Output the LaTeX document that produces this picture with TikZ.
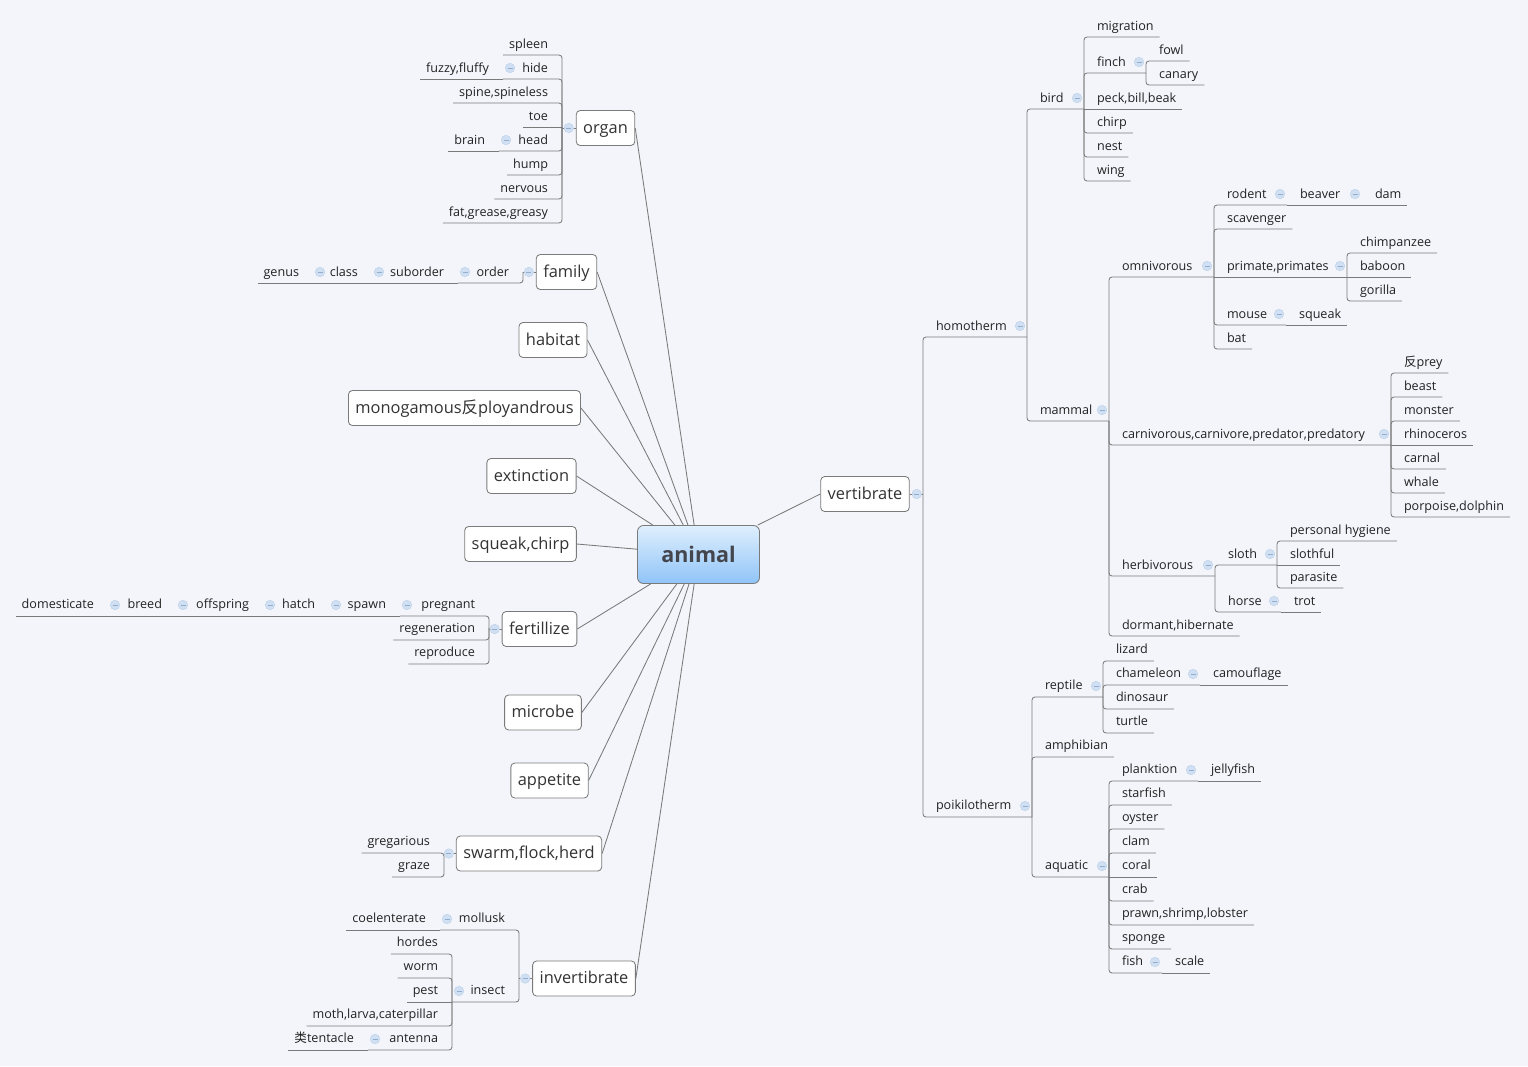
\documentclass[tikz,border=0pt]{standalone}
\usepackage{fontspec}
\setmainfont{Open Sans}
\newfontfamily\cjk{Noto Sans CJK SC}
\usetikzlibrary{positioning,calc}
\definecolor{paper}{HTML}{F3F5FA}
\definecolor{linegray}{HTML}{7A7A7A}
\definecolor{inktext}{HTML}{222222}
\definecolor{boxtext}{HTML}{333333}
\definecolor{roottext}{HTML}{44464E}
\definecolor{roottop}{HTML}{DFEFFD}
\definecolor{rootbottom}{HTML}{90C4F8}
\definecolor{iconfill}{HTML}{D0E0F2}
\definecolor{iconedge}{HTML}{BDD2EA}
\definecolor{icondash}{HTML}{92AECF}
\newcommand{\topicdepth}{6.5pt}
\tikzset{
    link/.style={draw=linegray,line width=0.85pt,rounded corners=3pt},
    spoke/.style={draw=linegray,line width=0.85pt},
    topic/.style={inner xsep=0pt,inner ysep=0pt,outer sep=0pt,text height=11pt,text depth=\topicdepth,text=inktext,font=\fontsize{12.6}{15}\selectfont},
    leafr/.style={topic,anchor=south west,execute at begin node={\kern13pt},execute at end node={\kern6pt}},
    branchr/.style={topic,anchor=south west,text width=#1pt,align=left,execute at begin node={\hspace*{13pt}}},
    leafl/.style={topic,anchor=south east,execute at begin node={\kern6pt},execute at end node={\kern14pt}},
    branchl/.style={topic,anchor=south east,text width=#1pt,align=right,execute at end node={\hspace*{14pt}}},
    mainbox/.style={draw=linegray,line width=0.85pt,fill=white,rounded corners=4pt,minimum height=35pt,inner xsep=7pt,inner ysep=0pt,text height=13pt,text depth=3pt,text=boxtext,font=\fontsize{16.4}{20}\selectfont},
    minus/.style={circle,draw=iconedge,fill=iconfill,line width=0.5pt,minimum size=9.5pt,inner sep=0pt,
        path picture={\draw[draw=icondash,line width=0.6pt] ([xshift=-2.5pt]path picture bounding box.center) -- ([xshift=2.5pt]path picture bounding box.center);}},
}
\begin{document}
\begin{tikzpicture}[x=1pt,y=-1pt]
    \fill[paper] (0,0) rectangle (1528,1066);
    \useasboundingbox (0,0) rectangle (1528,1066);

    \node[draw=linegray,line width=0.85pt,rounded corners=6pt,minimum width=122pt,minimum height=58pt,inner sep=0pt,
        top color=roottop,bottom color=rootbottom,text height=16pt,text depth=0pt,text=roottext,font=\fontsize{21.5}{26}\selectfont\bfseries](animal) at (698.5,554.5){animal};

    % boxes round the centre
    \node[mainbox](vertibrate) at (865,494){vertibrate};
    \node[mainbox](organ) at (605.5,128){organ};
    \node[mainbox](family) at (566.5,272){family};
    \node[mainbox](habitat) at (553,340){habitat};
    \node[mainbox](monogamous) at (464.5,408){monogamous{\cjk 反}ployandrous};
    \node[mainbox](extinction) at (531.5,476){extinction};
    \node[mainbox](squeakchirp) at (520.5,544){squeak,chirp};
    \node[mainbox](fertillize) at (539.5,629){fertillize};
    \node[mainbox](microbe) at (543,712.5){microbe};
    \node[mainbox](appetite) at (549.5,780.5){appetite};
    \node[mainbox](swarm) at (529,853.5){swarm,flock,herd};
    \node[mainbox](invertibrate) at (584,978.5){invertibrate};

    % junctions beside the boxes
    \coordinate (vertibratej) at (923,494);
    \coordinate (organj) at (562,127);
    \coordinate (familyj) at (523,272);
    \coordinate (fertillizej) at (489,628);
    \coordinate (swarmj) at (444,864);
    \coordinate (invertibratej) at (519,978);

    % homotherm
    \node[branchr=104](homotherm) at (vertibratej |- 0,337){homotherm};
    \node[branchr=57](bird) at (homotherm.south east |- 0,109){bird};
    \node[branchr=82](mammal) at (homotherm.south east |- 0,421){mammal};
    \node[leafr](migration) at (bird.south east |- 0,37){migration};
    \node[branchr=62](finch) at (bird.south east |- 0,73){finch};
    \node[leafr](peck) at (bird.south east |- 0,109){peck,bill,beak};
    \node[leafr](chirp) at (bird.south east |- 0,133){chirp};
    \node[leafr](nest) at (bird.south east |- 0,157){nest};
    \node[leafr](wing) at (bird.south east |- 0,181){wing};
    \node[leafr](fowl) at (finch.south east |- 0,61){fowl};
    \node[leafr](canary) at (finch.south east |- 0,85){canary};
    \node[branchr=105](omnivorous) at (mammal.south east |- 0,277){omnivorous};
    \node[branchr=282](carnivorous) at (mammal.south east |- 0,445){carnivorous,carnivore,predator,predatory};
    \node[branchr=106](herbivorous) at (mammal.south east |- 0,576){herbivorous};
    \node[leafr](dormant) at (mammal.south east |- 0,636){dormant,hibernate};
    \node[branchr=73](rodent) at (omnivorous.south east |- 0,205){rodent};
    \node[branchr=75](beaver) at (rodent.south east){beaver};
    \node[leafr](dam) at (beaver.south east){dam};
    \node[leafr](scavenger) at (omnivorous.south east |- 0,229){scavenger};
    \node[branchr=133](primate) at (omnivorous.south east |- 0,277){primate,primates};
    \node[branchr=72](mouse) at (omnivorous.south east |- 0,325){mouse};
    \node[leafr](squeak) at (mouse.south east){squeak};
    \node[leafr](bat) at (omnivorous.south east |- 0,349){bat};
    \node[leafr](chimpanzee) at (primate.south east |- 0,253){chimpanzee};
    \node[leafr](baboon) at (primate.south east |- 0,277){baboon};
    \node[leafr](gorilla) at (primate.south east |- 0,301){gorilla};
    \node[leafr](prey) at (carnivorous.south east |- 0,373){{\cjk 反}prey};
    \node[leafr](beast) at (carnivorous.south east |- 0,397){beast};
    \node[leafr](monster) at (carnivorous.south east |- 0,421){monster};
    \node[leafr](rhinoceros) at (carnivorous.south east |- 0,445){rhinoceros};
    \node[leafr](carnal) at (carnivorous.south east |- 0,469){carnal};
    \node[leafr](whale) at (carnivorous.south east |- 0,493){whale};
    \node[leafr](porpoise) at (carnivorous.south east |- 0,517){porpoise,dolphin};
    \node[branchr=62](sloth) at (herbivorous.south east |- 0,565){sloth};
    \node[branchr=66](horse) at (herbivorous.south east |- 0,612){horse};
    \node[leafr](trot) at (horse.south east){trot};
    \node[leafr](hygiene) at (sloth.south east |- 0,541){personal hygiene};
    \node[leafr](slothful) at (sloth.south east |- 0,565){slothful};
    \node[leafr](parasite) at (sloth.south east |- 0,588){parasite};

    % organ
    \node[leafl](spleen) at (organj |- 0,55){spleen};
    \node[branchl=59](hide) at (organj |- 0,79){hide};
    \node[leafl](fuzzy) at (hide.south west){fuzzy,fluffy};
    \node[leafl](spine) at (organj |- 0,103){spine,spineless};
    \node[leafl](toe) at (organj |- 0,127){toe};
    \node[branchl=63](head) at (organj |- 0,151){head};
    \node[leafl](brain) at (head.south west){brain};
    \node[leafl](hump) at (organj |- 0,175){hump};
    \node[leafl](nervous) at (organj |- 0,199){nervous};
    \node[leafl](fat) at (organj |- 0,223){fat,grease,greasy};
    % family
    \node[branchl=65](order) at (familyj |- 0,283){order};
    \node[branchl=86](suborder) at (order.south west){suborder};
    \node[branchl=59](class) at (suborder.south west){class};
    \node[leafl](genus) at (class.south west){genus};

    % from here on the text sits a little higher over its line
    \renewcommand{\topicdepth}{7.5pt}

    % poikilotherm
    \node[branchr=109](poikilotherm) at (vertibratej |- 0,817){poikilotherm};
    \node[branchr=71](reptile) at (poikilotherm.south east |- 0,697){reptile};
    \node[leafr](amphibian) at (poikilotherm.south east |- 0,757){amphibian};
    \node[branchr=77](aquatic) at (poikilotherm.south east |- 0,877){aquatic};
    \node[leafr](lizard) at (reptile.south east |- 0,661){lizard};
    \node[branchr=97](chameleon) at (reptile.south east |- 0,685){chameleon};
    \node[leafr](camouflage) at (chameleon.south east){camouflage};
    \node[leafr](dinosaur) at (reptile.south east |- 0,709){dinosaur};
    \node[leafr](turtle) at (reptile.south east |- 0,733){turtle};
    \node[branchr=89](planktion) at (aquatic.south east |- 0,781){planktion};
    \node[leafr](jellyfish) at (planktion.south east){jellyfish};
    \node[leafr](starfish) at (aquatic.south east |- 0,805){starfish};
    \node[leafr](oyster) at (aquatic.south east |- 0,829){oyster};
    \node[leafr](clam) at (aquatic.south east |- 0,853){clam};
    \node[leafr](coral) at (aquatic.south east |- 0,877){coral};
    \node[leafr](crab) at (aquatic.south east |- 0,901){crab};
    \node[leafr](prawn) at (aquatic.south east |- 0,925){prawn,shrimp,lobster};
    \node[leafr](sponge) at (aquatic.south east |- 0,949){sponge};
    \node[branchr=53](fish) at (aquatic.south east |- 0,973){fish};
    \node[leafr](scale) at (fish.south east){scale};

    % fertillize
    \node[branchl=89](pregnant) at (fertillizej |- 0,616){pregnant};
    \node[branchl=71](spawn) at (pregnant.south west){spawn};
    \node[branchl=66](hatch) at (spawn.south west){hatch};
    \node[branchl=87](offspring) at (hatch.south west){offspring};
    \node[branchl=68](breed) at (offspring.south west){breed};
    \node[leafl](domesticate) at (breed.south west){domesticate};
    \node[leafl](regeneration) at (fertillizej |- 0,640){regeneration};
    \node[leafl](reproduce) at (fertillizej |- 0,664){reproduce};
    % swarm
    \node[leafl](gregarious) at (swarmj |- 0,853){gregarious};
    \node[leafl](graze) at (swarmj |- 0,877){graze};
    % invertibrate
    \node[branchl=79](mollusk) at (invertibratej |- 0,930){mollusk};
    \node[leafl](coelenterate) at (mollusk.south west){coelenterate};
    \node[branchl=67](insect) at (invertibratej |- 0,1002){insect};
    \node[leafl](hordes) at (insect.south west |- 0,954){hordes};
    \node[leafl](worm) at (insect.south west |- 0,978){worm};
    \node[leafl](pest) at (insect.south west |- 0,1002){pest};
    \node[leafl](moth) at (insect.south west |- 0,1026){moth,larva,caterpillar};
    \node[branchl=84](antenna) at (insect.south west |- 0,1050){antenna};
    \node[leafl](tentacle) at (antenna.south west){{\cjk 类}tentacle};

    % spokes from the centre
    \draw[spoke] (animal) -- (vertibrate.west);
    \foreach \b in {organ,family,habitat,monogamous,extinction,squeakchirp,fertillize,microbe,appetite,swarm,invertibrate}
        \draw[spoke] (animal) -- (\b.east);

    % stubs from box to junction
    \draw[spoke] (vertibrate.east) -- (vertibrate.east -| vertibratej);
    \foreach \b in {organ,family,fertillize,swarm,invertibrate}
        \draw[spoke] (\b.west) -- (\b.west -| \b j);

    % right hand tree
    \foreach \c in {homotherm,poikilotherm}
        \draw[link] (vertibratej) |- (\c.south east);
    \foreach \p/\c in {homotherm/bird,homotherm/mammal,bird/migration,bird/finch,bird/chirp,bird/nest,bird/wing,
        finch/fowl,finch/canary,mammal/omnivorous,mammal/carnivorous,mammal/herbivorous,mammal/dormant,
        omnivorous/rodent,omnivorous/scavenger,omnivorous/mouse,omnivorous/bat,
        primate/chimpanzee,primate/gorilla,
        carnivorous/prey,carnivorous/beast,carnivorous/monster,carnivorous/carnal,carnivorous/whale,carnivorous/porpoise,
        herbivorous/sloth,herbivorous/horse,sloth/hygiene,sloth/parasite,
        poikilotherm/reptile,poikilotherm/amphibian,poikilotherm/aquatic,reptile/lizard,reptile/chameleon,reptile/dinosaur,reptile/turtle,
        aquatic/planktion,aquatic/starfish,aquatic/oyster,aquatic/clam,aquatic/crab,aquatic/prawn,aquatic/sponge,aquatic/fish}
        \draw[link] (\p.south east) |- (\c.south east);
    \foreach \p/\c in {bird/peck,omnivorous/primate,primate/baboon,rodent/beaver,beaver/dam,mouse/squeak,carnivorous/rhinoceros,
        horse/trot,sloth/slothful,chameleon/camouflage,planktion/jellyfish,aquatic/coral,fish/scale}
        \draw[spoke] (\p.south east) -- (\c.south east);

    % left hand tree
    \foreach \j/\c in {organj/spleen,organj/hide,organj/spine,organj/head,organj/hump,organj/nervous,organj/fat,
        familyj/order,fertillizej/pregnant,fertillizej/regeneration,fertillizej/reproduce,
        swarmj/gregarious,swarmj/graze,invertibratej/mollusk,invertibratej/insect}
        \draw[link] (\j) |- (\c.south west);
    \draw[spoke] (organj) -- (toe.south west);
    \foreach \p/\c in {insect/hordes,insect/worm,insect/moth,insect/antenna}
        \draw[link] (\p.south west) |- (\c.south west);
    \foreach \p/\c in {hide/fuzzy,head/brain,order/suborder,suborder/class,class/genus,
        pregnant/spawn,spawn/hatch,hatch/offspring,offspring/breed,breed/domesticate,
        mollusk/coelenterate,insect/pest,antenna/tentacle}
        \draw[spoke] (\p.south west) -- (\c.south west);

    % collapse marks
    \foreach \n in {homotherm,poikilotherm,bird,mammal,finch,omnivorous,carnivorous,herbivorous,rodent,beaver,primate,mouse,sloth,horse,reptile,chameleon,aquatic,planktion,fish}
        \node[minus](icon\n) at ([shift={(-7,-11)}]\n.south east){};
    \foreach \n in {hide,head,order,suborder,class,pregnant,spawn,hatch,offspring,breed,mollusk,insect,antenna}
        \node[minus](icon\n) at ([shift={(7,-11)}]\n.south west){};
    \node[minus](iconvertibrate) at ([xshift=7pt]vertibrate.east){};
    \foreach \b in {organ,family,fertillize,swarm,invertibrate}
        \node[minus](icon\b) at ([xshift=-7pt]\b.west){};
\end{tikzpicture}
\end{document}
